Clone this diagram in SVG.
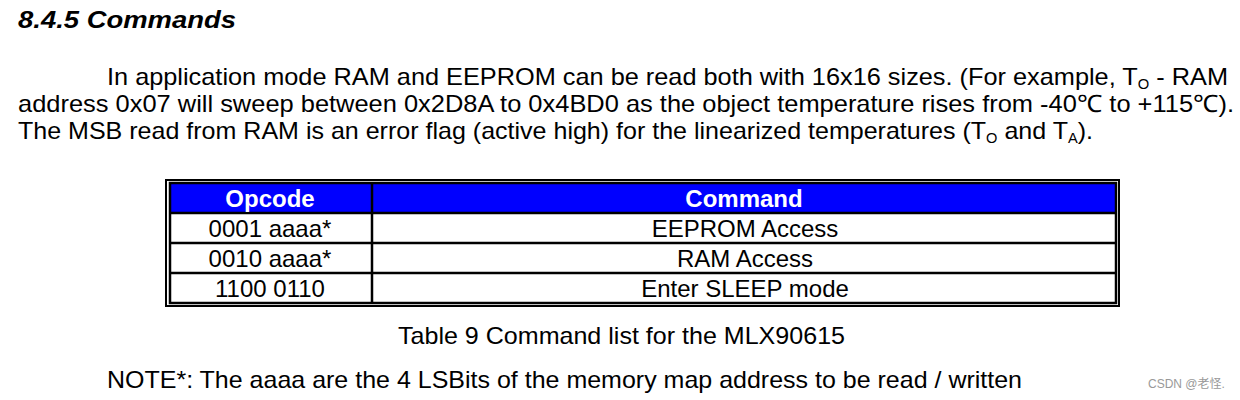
<svg xmlns="http://www.w3.org/2000/svg" width="1240" height="400" viewBox="0 0 1240 400">
<style>
text{font-family:"Liberation Sans",Arial,sans-serif;font-size:24px;fill:#000}
.h{fill:#fff;font-weight:bold;text-anchor:middle}
.c{text-anchor:middle}
.ln{stroke:#000;stroke-width:2.5}
</style>
<rect width="1240" height="400" fill="#fff"/>
<text x="18" y="28" font-weight="bold" font-style="italic" font-size="26" textLength="218" lengthAdjust="spacingAndGlyphs">8.4.5 Commands</text>
<text x="107" y="85" textLength="1121" lengthAdjust="spacingAndGlyphs">In application mode RAM and EEPROM can be read both with 16x16 sizes. (For example, T<tspan font-size="14" dy="4">O</tspan><tspan dy="-4"> - RAM</tspan></text>
<text x="18" y="112" textLength="1216" lengthAdjust="spacingAndGlyphs">address 0x07 will sweep between 0x2D8A to 0x4BD0 as the object temperature rises from -40℃ to +115℃).</text>
<text x="18" y="139" textLength="1075" lengthAdjust="spacingAndGlyphs">The MSB read from RAM is an error flag (active high) for the linearized temperatures (T<tspan font-size="14" dy="4">O</tspan><tspan dy="-4"> and T</tspan><tspan font-size="14" dy="4">A</tspan><tspan dy="-4">).</tspan></text>
<g id="table">
<rect x="166" y="180" width="953" height="126" fill="none" stroke="#000" stroke-width="2"/>
<rect x="170" y="183" width="946" height="30" fill="#0000ff"/>
<rect x="170" y="183" width="946" height="120" fill="none" stroke="#000" stroke-width="2.5"/>
<line class="ln" x1="170" y1="213" x2="1116" y2="213"/>
<line class="ln" x1="170" y1="243" x2="1116" y2="243"/>
<line class="ln" x1="170" y1="273" x2="1116" y2="273"/>
<line class="ln" x1="372" y1="183" x2="372" y2="303"/>
<text class="h" x="270" y="207">Opcode</text>
<text class="h" x="744" y="207">Command</text>
<text class="c" x="270" y="237">0001 aaaa*</text>
<text class="c" x="745" y="237">EEPROM Access</text>
<text class="c" x="270" y="267">0010 aaaa*</text>
<text class="c" x="745" y="267">RAM Access</text>
<text class="c" x="270" y="297">1100 0110</text>
<text class="c" x="745" y="297">Enter SLEEP mode</text>
</g>
<text x="398" y="344" textLength="447" lengthAdjust="spacingAndGlyphs">Table 9 Command list for the MLX90615</text>
<text x="107" y="388" textLength="915" lengthAdjust="spacingAndGlyphs">NOTE*: The aaaa are the 4 LSBits of the memory map address to be read / written</text>
<text x="1148" y="388" style="fill:#999;font-size:12px;font-family:'Liberation Sans','Noto Sans CJK SC',sans-serif">CSDN @老怪.</text>
</svg>
